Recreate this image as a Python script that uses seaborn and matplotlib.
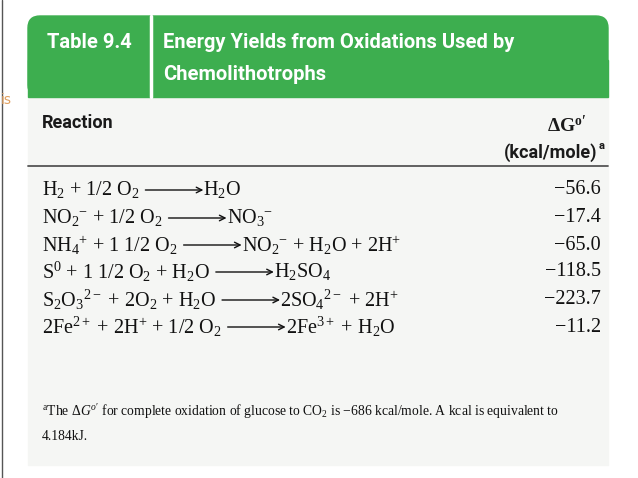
import matplotlib
matplotlib.use("Agg")
import matplotlib.pyplot as plt
import seaborn as sns
from matplotlib.patches import FancyBboxPatch, Rectangle

sns.set_theme(style="white")
plt.rcParams['mathtext.fontset'] = 'custom'
plt.rcParams['mathtext.rm'] = 'Liberation Serif'
plt.rcParams['mathtext.it'] = 'Liberation Serif:italic'
plt.rcParams['mathtext.bf'] = 'Liberation Serif:bold'
plt.rcParams['font.family'] = ['Liberation Serif', 'DejaVu Sans']

reactants = [r"H$_2$ + 1/2 O$_2$",
             r"NO$_2$$^{-}$ + 1/2 O$_2$",
             r"NH$_4$$^{+}$ + 1 1/2 O$_2$",
             r"S$^0$ + 1 1/2 O$_2$ + H$_2$O",
             r"S$_2$O$_3$$^{2-}$ + 2O$_2$ + H$_2$O",
             r"2Fe$^{2+}$ + 2H$^{+}$ + 1/2 O$_2$"]
products = [r"H$_2$O",
            r"NO$_3$$^{-}$",
            r"NO$_2$$^{-}$ + H$_2$O + 2H$^{+}$",
            r"H$_2$SO$_4$",
            r"2SO$_4$$^{2-}$ + 2H$^{+}$",
            r"2Fe$^{3+}$ + H$_2$O"]
delta_g = ["\u221256.6", "\u221217.4", "\u221265.0", "\u2212118.5", "\u2212223.7", "\u221211.2"]

fig = plt.figure(figsize=(6.38, 4.78), dpi=100)
ax = fig.add_axes([0, 0, 1, 1])
ax.set_xlim(0, 638); ax.set_ylim(478, 0); ax.axis('off')

green = "#3DAE4F"
ax.add_patch(Rectangle((28, 97), 580, 368, color="#F5F6F4", zorder=0))
ax.add_patch(FancyBboxPatch((28, 16), 580, 81, boxstyle="round,pad=0,rounding_size=12",
                            color=green, zorder=1))
ax.add_patch(Rectangle((28, 60), 580, 37, color=green, zorder=1))
ax.plot([151, 151], [16, 97], color="white", lw=2.5, zorder=2)
ax.plot([2, 2], [0, 478], color="#555555", lw=1)
ax.text(1, 100, "is", color="#E0A060", fontsize=10, family="DejaVu Sans", va="center")

hdr = dict(color="white", fontsize=14.5, fontweight="bold", family="Roboto", va="center")
ax.text(47, 42, "Table 9.4", **hdr)
ax.text(163, 42, "Energy Yields from Oxidations Used by", **hdr)
ax.text(163, 74, "Chemolithotrophs", **hdr)

colh = dict(color="#1a1a1a", fontsize=13, fontweight="bold", family="Roboto", va="center")
ax.text(42, 123, "Reaction", **colh)
ax.text(567, 125, r"$\mathbf{\Delta}\mathit{\mathbf{G}}^{\mathbf{o\prime}}$", ha="center", color="#1a1a1a", fontsize=14, va="center")
ax.text(597, 153, "(kcal/mole)", ha="right", **colh)
ax.text(599, 146, "a", ha="left", color="#1a1a1a", fontsize=8, fontweight="bold", family="Roboto", va="center")
ax.plot([28, 608], [166, 166], color="#555555", lw=1.3)

fig.canvas.draw()
r = fig.canvas.get_renderer()
rows_y = [190, 218, 245, 272, 300, 327]
fs = 14.5
for y, a, p, g in zip(rows_y, reactants, products, delta_g):
    t = ax.text(42, y, a, fontsize=fs, color="#111", va="center")
    bb = t.get_window_extent(r)
    x0 = bb.x1 + 6
    ax.annotate("", xy=(x0 + 58, y), xytext=(x0, y),
                arrowprops=dict(arrowstyle="->", color="#111", lw=1, mutation_scale=10,
                                shrinkA=0, shrinkB=0))
    ax.text(x0 + 58, y, p, fontsize=fs, color="#111", va="center")
    ax.text(601, y, g, fontsize=fs, color="#111", va="center", ha="right")

ax.text(42, 412, "$^{\\mathrm{a}}$The $\\Delta \\mathit{G}^{o\\prime}$ for complete oxidation of glucose to CO$_2$ is \u2212686 kcal/mole. A kcal is equivalent to",
        fontsize=9.8, color="#111", va="center")
ax.text(42, 437, "4.184kJ.", fontsize=9.8, color="#111", va="center")

fig.savefig("out.png", dpi=100, facecolor="white")
